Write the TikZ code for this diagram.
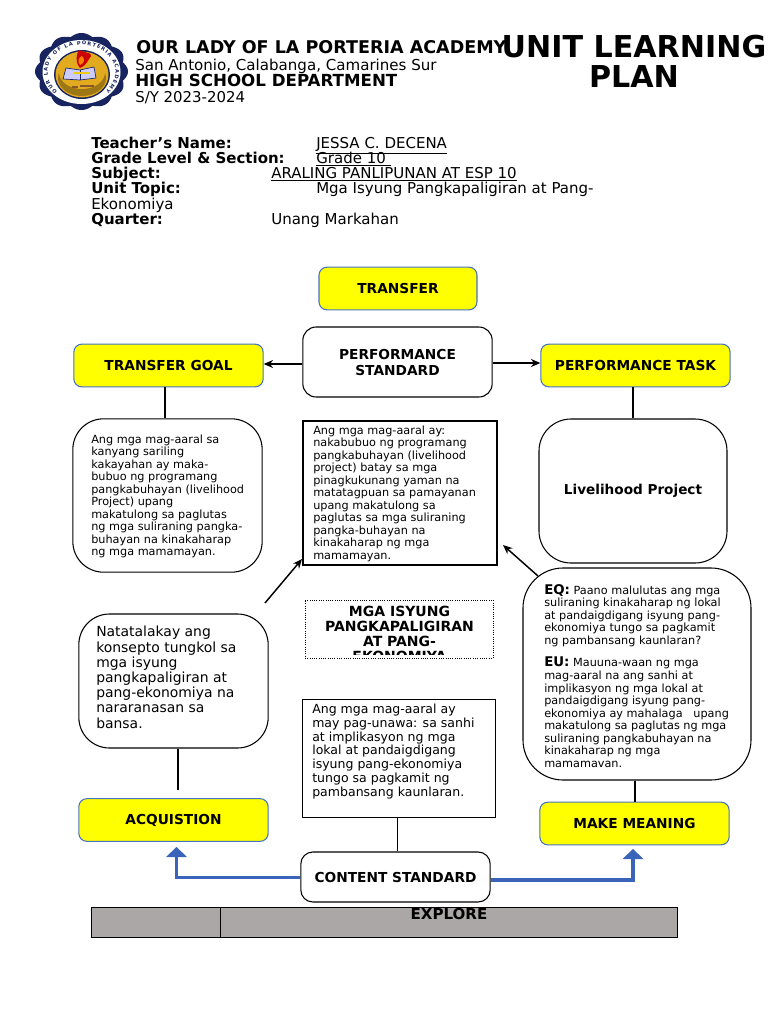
\documentclass[tikz,border=0pt]{standalone}
\usepackage{fontspec}
\setmainfont{DejaVu Sans}
\usetikzlibrary{arrows.meta,decorations.text}
\definecolor{boxyellow}{RGB}{255,255,0}
\definecolor{boxblue}{RGB}{68,114,196}
\definecolor{arrowblue}{RGB}{58,100,186}
\definecolor{navy}{RGB}{24,36,96}
\definecolor{gold}{RGB}{226,170,30}
\definecolor{tablegrey}{RGB}{171,167,166}
\newcommand{\fs}[2]{\fontsize{#1}{#2}\selectfont}
\tikzset{
 x=0.75pt,y=-0.75pt,
 txt/.style={inner sep=0pt,anchor=base west,align=left},
 yellowbox/.style={draw=boxblue,fill=boxyellow,line width=0.8pt,rounded corners=6pt,inner sep=0pt,font=\bfseries\fs{10.3}{12},align=center},
 whitebox/.style={draw=black,fill=white,line width=0.8pt,inner sep=0pt,font=\bfseries\fs{10.3}{12},align=center},
 body/.style={inner sep=0pt,anchor=north west,align=left,font=\fs{8.45}{9.38}},
 conn/.style={draw=black,line width=1.2pt},
 arr/.style={draw=black,line width=1.1pt,-{Stealth[length=7pt,width=6pt]}},
 bluearr/.style={draw=arrowblue,line width=2.6pt},
}
\begin{document}
\begin{tikzpicture}
\useasboundingbox (0,0) rectangle (768,1024);
\fill[white] (0,0) rectangle (768,1024);
% logo
\fill[navy] plot[samples=145,domain=0:360,variable=\a] ({81.5+46.5*(0.92+0.08*abs(cos(6*\a)))*cos(\a)},{71.5+38.5*(0.92+0.08*abs(cos(6*\a)))*sin(\a)}) -- cycle;
\fill[white] (81.5,72) ellipse (39 and 32);
\path[decorate,decoration={text along path,text align=fit to path,text={|\bfseries\fontsize{3.8}{5}\selectfont\color{navy}|OUR LADY OF LA PORTERIA ACADEMY}}] (81.5,72) ++(135:34 and 27) arc[start angle=135,end angle=405,x radius=34,y radius=27];
\fill[navy] (82,74.5) ellipse (28 and 24.5);
\fill[gold] (82,74.5) ellipse (26.5 and 23);
\fill[gold!70!black] (82,78) ellipse (24 and 18);
\fill[gold] (82,72) ellipse (23 and 17);
\fill[white!80!blue,draw=navy,line width=0.5pt] (66,68)--(80,70)--(94,67)--(96,78)--(80,80)--(63,79)--cycle;
\draw[navy,line width=0.4pt] (80,70)--(80,80);
\fill[gold!60!yellow] (74,72)--(90,72)--(90,74)--(74,74)--cycle;
\fill[brown!70!black] (72,86) rectangle (78,88);
\fill[brown!70!black] (80,85) rectangle (94,87);
\fill[red!80!black] (80,68) .. controls (75,62) and (76,55) .. (79,50) .. controls (84,53) and (92,52) .. (91,56) .. controls (88,60) and (87,65) .. (80,68) -- cycle;
\fill[orange] (80,65) .. controls (77,61) and (79,57) .. (82,56) .. controls (85,59) and (85,63) .. (80,65) -- cycle;
% header
\node[txt,font=\bfseries\fs{13.15}{15}] (school) at (136,53.5) {OUR LADY OF LA PORTERIA ACADEMY};
\node[txt,font=\fs{11.3}{13}] (addr) at (135,70) {San Antonio, Calabanga, Camarines Sur};
\node[txt,font=\bfseries\fs{12.5}{14}] (dept) at (135,86) {HIGH SCHOOL DEPARTMENT};
\node[txt,font=\fs{11.2}{13}] (sy) at (135,103) {S/Y 2023-2024};
\node[inner sep=0pt,align=center,font=\bfseries\fs{22.6}{22.5}] (title) at (634,61.5) {UNIT LEARNING\\PLAN};
% info
\node[txt,font=\bfseries\fs{11.25}{12}] (l1) at (91,148.5) {Teacher’s Name:};
\node[txt,font=\bfseries\fs{11.25}{12}] (l2) at (91,163.5) {Grade Level \& Section:};
\node[txt,font=\bfseries\fs{11.25}{12}] (l3) at (91,178.5) {Subject:};
\node[txt,font=\bfseries\fs{11.25}{12}] (l4) at (91,193.5) {Unit Topic:};
\node[txt,font=\fs{11.25}{12}] (l5) at (91,209) {Ekonomiya};
\node[txt,font=\bfseries\fs{11.25}{12}] (l6) at (91,224.5) {Quarter:};
\node[txt,font=\fs{11.25}{12}] (v1) at (316,148.5) {\underline{JESSA C. DECENA}};
\node[txt,font=\fs{11.25}{12}] (v2) at (316,163.5) {\underline{Grade 10\ }};
\node[txt,font=\fs{11.25}{12}] (v3) at (271,178.5) {\underline{ARALING PANLIPUNAN AT ESP 10}};
\node[txt,font=\fs{11.25}{12}] (v4) at (316,193.5) {Mga Isyung Pangkapaligiran at Pang-};
\node[txt,font=\fs{11.25}{12}] (v6) at (271,224.5) {Unang Markahan};
% boxes
\node[yellowbox,minimum width=118.5pt,minimum height=32pt] (transfer) at (398,288.5) {TRANSFER};
\node[whitebox,rounded corners=10pt,minimum width=142pt,minimum height=52.5pt] (pstd) at (397.5,362) {PERFORMANCE\\STANDARD};
\node[yellowbox,minimum width=142pt,minimum height=32pt] (tgoal) at (168.5,365.5) {TRANSFER GOAL};
\node[yellowbox,minimum width=142pt,minimum height=32pt] (ptask) at (635.5,365.5) {PERFORMANCE TASK};
\node[draw,fill=white,line width=0.8pt,rounded corners=23pt,minimum width=142pt,minimum height=115pt] (lbox) at (167.5,495.5) {};
\node[body] (ltext) at (91,434.5) {Ang mga mag-aaral sa\\kanyang sariling\\kakayahan ay maka-\\bubuo ng programang\\pangkabuhayan (livelihood\\Project) upang\\makatulong sa paglutas\\ng mga suliraning pangka-\\buhayan na kinakaharap\\ng mga mamamayan.};
\node[draw,fill=white,line width=1.4pt,minimum width=145pt,minimum height=108pt] (cbox) at (400,493) {};
\node[body] (ctext) at (313,425.5) {Ang mga mag-aaral ay:\\nakabubuo ng programang\\pangkabuhayan (livelihood\\project) batay sa mga\\pinagkukunang yaman na\\matatagpuan sa pamayanan\\upang makatulong sa\\paglutas sa mga suliraning\\pangka-buhayan na\\kinakaharap ng mga\\mamamayan.};
\node[whitebox,rounded corners=24pt,minimum width=141pt,minimum height=108pt,font=\bfseries\fs{10.2}{12}] (lp) at (633,491) {Livelihood Project};
\node[draw,fill=white,line width=0.8pt,rounded corners=30pt,minimum width=171pt,minimum height=159pt] (eqbox) at (637,674) {};
\node[body] (eqt) at (544,584) {{\bfseries\fs{10}{9.38}EQ:} Paano malulutas ang mga\\suliraning kinakaharap ng lokal\\at pandaigdigang isyung pang-\\ekonomiya tungo sa pagkamit\\ng pambansang kaunlaran?};
\node[body] (eut) at (544,657) {{\bfseries\fs{10}{9.38}EU:} Mauuna-waan ng mga\\mag-aaral na ang sanhi at\\implikasyon ng mga lokal at\\pandaigdigang isyung pang-\\ekonomiya ay mahalaga\ \ \ upang\\makatulong sa paglutas ng mga\\suliraning pangkabuhayan na\\kinakaharap ng mga\\mamamavan.};
\node[draw,fill=white,line width=0.8pt,rounded corners=23pt,minimum width=142pt,minimum height=100.5pt] (nbox) at (173.5,681) {};
\node[body,font=\fs{10.45}{11.4}] (ntext) at (96,626) {Natatalakay ang\\konsepto tungkol sa\\mga isyung\\pangkapaligiran at\\pang-ekonomiya na\\nararanasan sa\\bansa.};
\node[draw=black,densely dotted,line width=0.7pt,minimum width=141pt,minimum height=43.5pt,inner sep=0pt] (dash) at (399,629) {};
\begin{scope}
\clip (306,601) rectangle (492,654);
\node[inner sep=0pt,anchor=north,align=center,font=\bfseries\fs{10.5}{11.3}] (dtext) at (399.5,606) {MGA ISYUNG\\PANGKAPALIGIRAN\\AT PANG-\\EKONOMIYA};
\end{scope}
\node[draw,fill=white,line width=0.8pt,minimum width=145pt,minimum height=88pt] (kbox) at (399,758.5) {};
\node[body,font=\fs{9.4}{10.3}] (ktext) at (312,704) {Ang mga mag-aaral ay\\may pag-unawa: sa sanhi\\at implikasyon ng mga\\lokal at pandaigdigang\\isyung pang-ekonomiya\\tungo sa pagkamit ng\\pambansang kaunlaran.};
\node[yellowbox,minimum width=142pt,minimum height=32pt] (acq) at (173.5,820) {ACQUISTION};
\node[yellowbox,minimum width=142pt,minimum height=32pt] (mm) at (634.5,823.5) {MAKE MEANING};
\node[whitebox,rounded corners=9pt,minimum width=142pt,minimum height=37.5pt] (cstd) at (395.5,877) {CONTENT STANDARD};
% table
\node[draw=black,fill=tablegrey,line width=0.7pt,minimum width=96.75pt,minimum height=22.5pt,inner sep=0pt] (t1) at (155.5,922) {};
\node[draw=black,fill=tablegrey,line width=0.7pt,minimum width=342.75pt,minimum height=22.5pt,inner sep=0pt] (t2) at (448.5,922) {};
\node[inner sep=0pt,font=\bfseries\fs{11.3}{12}] (explore) at (449,914) {EXPLORE};
% connectors
\draw[arr] (pstd.west|-0,364) -- (tgoal.east|-0,364);
\draw[arr] (pstd.east|-0,363) -- (ptask.west|-0,363);
\draw[conn] (tgoal.south-|165,0) -- (lbox.north-|165,0);
\draw[conn] (ptask.south-|633,0) -- (lp.north-|633,0);
\coordinate (astart) at (265,603);
\coordinate (aend) at (302,559);
\draw[arr] (astart) -- (aend);
\coordinate (bstart) at (538,576);
\coordinate (bend) at (503,545);
\draw[arr] (bstart) -- (bend);
\coordinate (nlow) at (178,790);
\draw[conn] (nbox.south-|178,0) -- (nlow);
\draw[conn] (eqbox.south-|635,0) -- (mm.north-|635,0);
\draw[conn] (kbox.south-|397.5,0) -- (cstd.north-|397.5,0);
\coordinate (aup) at (176.5,856);
\coordinate (mup) at (633,858);
\draw[bluearr] (cstd.west|-0,877.5) -- (176.5,877.5) -- (aup);
\draw[bluearr] (cstd.east|-0,880) -- (633,880) -- (mup);
\fill[arrowblue] (176.5,847) -- (187,857) -- (166,857) -- cycle;
\fill[arrowblue] (633,849) -- (643.5,859) -- (622.5,859) -- cycle;
\end{tikzpicture}
\end{document}
